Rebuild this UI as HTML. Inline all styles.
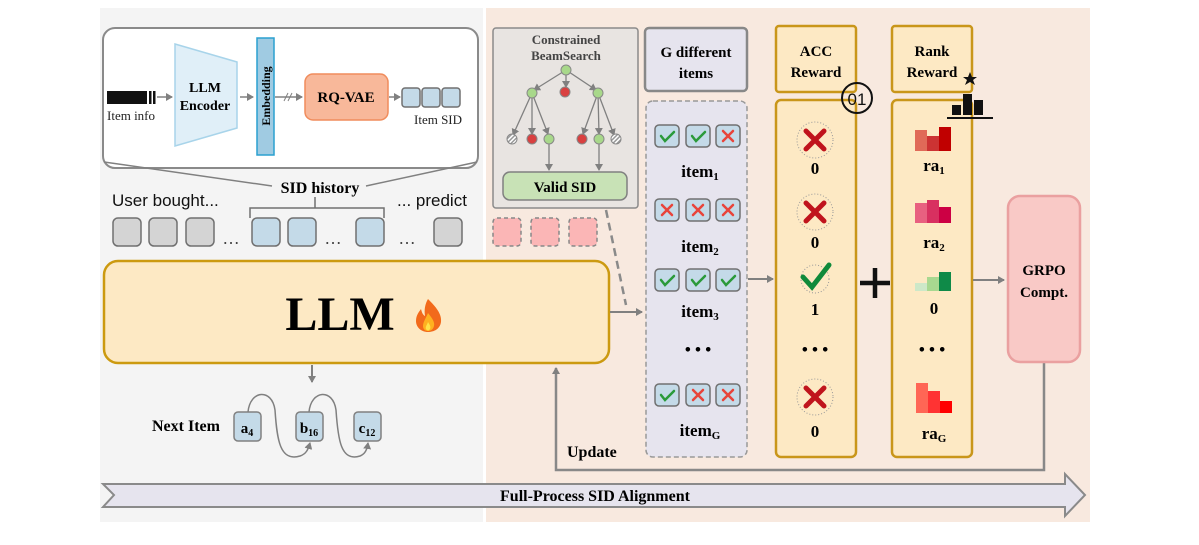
<!DOCTYPE html>
<html><head><meta charset="utf-8"><style>
html,body{margin:0;padding:0;background:#fff;}
svg{display:block;}
.s{font-family:"Liberation Serif",serif;font-weight:bold;}
.n{font-family:"Liberation Sans",sans-serif;}
</style></head><body>
<svg width="1199" height="545" viewBox="0 0 1199 545" xmlns="http://www.w3.org/2000/svg">
<defs>
<marker id="ar" markerWidth="8" markerHeight="8" refX="6" refY="4" orient="auto" markerUnits="userSpaceOnUse"><path d="M0,0 L7,4 L0,8 Z" fill="#808080"/></marker>
<pattern id="hat" width="3" height="3" patternUnits="userSpaceOnUse" patternTransform="rotate(45)"><rect width="3" height="3" fill="#fff"/><rect width="1.5" height="3" fill="#999"/></pattern>
</defs>
<rect x="100" y="8" width="383" height="514" fill="#f4f4f4"/>
<rect x="486" y="8" width="604" height="514" fill="#f8e9df"/>

<!-- top white box -->
<rect x="103" y="28" width="375" height="140" rx="12" fill="#fff" stroke="#8a8a8a" stroke-width="2"/>
<rect x="107" y="91" width="40" height="13" fill="#111"/>
<rect x="149" y="91" width="2.5" height="13" fill="#111"/><rect x="153" y="91" width="2.5" height="13" fill="#111"/>
<line x1="157" y1="97" x2="172" y2="97" stroke="#808080" stroke-width="1.5" marker-end="url(#ar)"/>
<text x="107" y="120" font-size="13" fill="#222" font-family="Liberation Serif,serif">Item info</text>
<polygon points="175,44 237,62 237,128 175,146" fill="#e0eff8" stroke="#a8d4ea" stroke-width="1.5"/>
<text x="205" y="92" class="s" font-size="14" text-anchor="middle">LLM</text>
<text x="205" y="110" class="s" font-size="14" text-anchor="middle">Encoder</text>
<line x1="240" y1="97" x2="253" y2="97" stroke="#808080" stroke-width="1.5" marker-end="url(#ar)"/>
<rect x="257" y="38" width="17" height="117" fill="#a0cbe2" stroke="#2aa0d0" stroke-width="1.5"/>
<text transform="translate(270,96) rotate(-90)" class="s" font-size="12" text-anchor="middle">Embedding</text>
<line x1="275" y1="97" x2="302" y2="97" stroke="#808080" stroke-width="1.5" marker-end="url(#ar)"/>
<line x1="284" y1="101" x2="288" y2="93" stroke="#808080" stroke-width="1"/><line x1="288" y1="101" x2="292" y2="93" stroke="#808080" stroke-width="1"/>
<rect x="305" y="74" width="83" height="46" rx="8" fill="#f8b89a" stroke="#f08c5c" stroke-width="1.5"/>
<text x="346" y="102" class="s" font-size="15" text-anchor="middle">RQ-VAE</text>
<line x1="389" y1="97" x2="400" y2="97" stroke="#808080" stroke-width="1.5" marker-end="url(#ar)"/>
<rect x="402" y="88" width="18" height="19" rx="3" fill="#c4dae8" stroke="#707070" stroke-width="1.5"/>
<rect x="422" y="88" width="18" height="19" rx="3" fill="#c4dae8" stroke="#707070" stroke-width="1.5"/>
<rect x="442" y="88" width="18" height="19" rx="3" fill="#c4dae8" stroke="#707070" stroke-width="1.5"/>
<text x="414" y="124" font-size="13" fill="#222" font-family="Liberation Serif,serif">Item SID</text>
<line x1="104" y1="162" x2="272" y2="186" stroke="#808080" stroke-width="1.5"/>
<line x1="477" y1="162" x2="366" y2="186" stroke="#808080" stroke-width="1.5"/>
<text x="320" y="193" class="s" font-size="16" text-anchor="middle">SID history</text>
<text x="112" y="206" class="n" font-size="17" fill="#111">User bought...</text>
<text x="397" y="206" class="n" font-size="17" fill="#111">... predict</text>
<path d="M250,218 V208 H384 V218 M315,208 V197" fill="none" stroke="#707070" stroke-width="1.5"/>
<g stroke="#707070" stroke-width="1.5">
<rect x="113" y="218" width="28" height="28" rx="5" fill="#d4d4d4"/>
<rect x="149" y="218" width="28" height="28" rx="5" fill="#d4d4d4"/>
<rect x="186" y="218" width="28" height="28" rx="5" fill="#d4d4d4"/>
<rect x="252" y="218" width="28" height="28" rx="5" fill="#c4dae8"/>
<rect x="288" y="218" width="28" height="28" rx="5" fill="#c4dae8"/>
<rect x="356" y="218" width="28" height="28" rx="5" fill="#c4dae8"/>
<rect x="434" y="218" width="28" height="28" rx="5" fill="#d4d4d4"/>
</g>
<text x="222" y="244" font-size="18" fill="#444" class="n">…</text>
<text x="324" y="244" font-size="18" fill="#444" class="n">…</text>
<text x="398" y="244" font-size="18" fill="#444" class="n">…</text>

<!-- beam search -->
<rect x="493" y="28" width="145" height="180" rx="3" fill="#e8e4e1" stroke="#8a8a8a" stroke-width="1.5"/>
<text x="566" y="44" class="s" font-size="13" fill="#444" text-anchor="middle">Constrained</text>
<text x="566" y="60" class="s" font-size="13" fill="#444" text-anchor="middle">BeamSearch</text>
<g stroke="#808080" stroke-width="1.3" fill="none">
<line x1="566" y1="70" x2="534" y2="90" marker-end="url(#ar)"/>
<line x1="566" y1="70" x2="566" y2="87" marker-end="url(#ar)"/>
<line x1="566" y1="70" x2="596" y2="90" marker-end="url(#ar)"/>
<line x1="532" y1="93" x2="513" y2="135" marker-end="url(#ar)"/>
<line x1="532" y1="93" x2="532" y2="134" marker-end="url(#ar)"/>
<line x1="532" y1="93" x2="548" y2="134" marker-end="url(#ar)"/>
<line x1="598" y1="93" x2="583" y2="134" marker-end="url(#ar)"/>
<line x1="598" y1="93" x2="599" y2="134" marker-end="url(#ar)"/>
<line x1="598" y1="93" x2="614" y2="135" marker-end="url(#ar)"/>
<line x1="549" y1="144" x2="549" y2="170" marker-end="url(#ar)"/>
<line x1="599" y1="144" x2="599" y2="170" marker-end="url(#ar)"/>
</g>
<g stroke="#888" stroke-width="1">
<circle cx="566" cy="70" r="5" fill="#a8d88a"/>
<circle cx="532" cy="93" r="5" fill="#a8d88a"/><circle cx="565" cy="92" r="5" fill="#d94040"/><circle cx="598" cy="93" r="5" fill="#a8d88a"/>
<circle cx="512" cy="139" r="5" fill="url(#hat)"/><circle cx="532" cy="139" r="5" fill="#d94040"/><circle cx="549" cy="139" r="5" fill="#a8d88a"/>
<circle cx="582" cy="139" r="5" fill="#d94040"/><circle cx="599" cy="139" r="5" fill="#a8d88a"/><circle cx="616" cy="139" r="5" fill="url(#hat)"/>
</g>
<rect x="503" y="172" width="124" height="28" rx="7" fill="#c8e2b6" stroke="#808080" stroke-width="1.5"/>
<text x="565" y="192" class="s" font-size="15" text-anchor="middle">Valid SID</text>
<g stroke="#888" stroke-width="1.5" stroke-dasharray="4,3" fill="#fbb6b6">
<rect x="493" y="218" width="28" height="28" rx="4"/>
<rect x="531" y="218" width="28" height="28" rx="4"/>
<rect x="569" y="218" width="28" height="28" rx="4"/>
</g>
<line x1="606" y1="210" x2="626" y2="305" stroke="#8a8a8a" stroke-width="2.5" stroke-dasharray="8,5"/>

<!-- LLM -->
<rect x="104" y="261" width="505" height="102" rx="14" fill="#fde9c4" stroke="#cc9a10" stroke-width="2.5"/>
<text x="340" y="330" class="s" font-size="48" text-anchor="middle">LLM</text>
<path d="M428,299 C436,307 442,314 441,322 C440,329 434,332 428,332 C421,332 416,327 416,321 C416,315 419,312 421,309 C422,313 423,315 425,316 C424,310 425,304 428,299 Z" fill="#f26a1b"/>
<path d="M428,313 C432,318 435,322 434,326 C433,330 430,331 428,331 C425,331 423,329 423,326 C423,322 426,318 428,313 Z" fill="#ffb020"/>
<path d="M428,322 C430,325 431,327 430,329 C429,331 427,331 426,329 C425,327 427,325 428,322 Z" fill="#ffe34a"/>
<line x1="610" y1="312" x2="642" y2="312" stroke="#808080" stroke-width="2" marker-end="url(#ar)"/>
<line x1="312" y1="365" x2="312" y2="382" stroke="#808080" stroke-width="2" marker-end="url(#ar)"/>

<text x="152" y="431" class="s" font-size="16">Next Item</text>
<g stroke="#808080" stroke-width="1.5" fill="#c4dae8">
<rect x="234" y="412" width="27" height="29" rx="4"/>
<rect x="296" y="412" width="27" height="29" rx="4"/>
<rect x="354" y="412" width="27" height="29" rx="4"/>
</g>
<text x="247" y="433" class="s" font-size="15" text-anchor="middle">a<tspan font-size="10" dy="3">4</tspan></text>
<text x="309" y="433" class="s" font-size="15" text-anchor="middle">b<tspan font-size="10" dy="3">16</tspan></text>
<text x="367" y="433" class="s" font-size="15" text-anchor="middle">c<tspan font-size="10" dy="3">12</tspan></text>
<path d="M248,412 C250,390 272,388 275,410 C277,440 280,462 300,456 C306,454 308,450 310,443" fill="none" stroke="#808080" stroke-width="1.5" marker-end="url(#ar)"/>
<path d="M309,412 C311,390 333,388 336,410 C338,440 341,462 360,456 C365,454 367,450 368,443" fill="none" stroke="#808080" stroke-width="1.5" marker-end="url(#ar)"/>

<!-- update loop -->
<path d="M1044,362 V470 H556 V368" fill="none" stroke="#888" stroke-width="2.5" marker-end="url(#ar)"/>
<text x="567" y="457" class="s" font-size="16">Update</text>

<!-- full process arrow -->
<polygon points="103,484 1065,484 1065,474 1085,495 1065,516 1065,507 103,507 114,495" fill="#e6e4ee" stroke="#8a8a8a" stroke-width="2"/>
<text x="595" y="501" class="s" font-size="16" text-anchor="middle">Full-Process SID Alignment</text>

<!-- G items -->
<rect x="645" y="28" width="102" height="63" rx="4" fill="#e6e4ee" stroke="#888" stroke-width="2.5"/>
<text x="696" y="57" class="s" font-size="15" text-anchor="middle">G different</text>
<text x="696" y="78" class="s" font-size="15" text-anchor="middle">items</text>
<rect x="646" y="101" width="101" height="356" rx="7" fill="#e6e4ee" stroke="#999" stroke-width="1.5" stroke-dasharray="5,3"/>
<g stroke="#707070" stroke-width="1.5" fill="#c4dae8">
<rect x="655" y="125" width="24" height="22" rx="4"/><rect x="686" y="125" width="24" height="22" rx="4"/><rect x="716" y="125" width="24" height="22" rx="4"/>
<rect x="655" y="199" width="24" height="22" rx="4"/><rect x="686" y="199" width="24" height="22" rx="4"/><rect x="716" y="199" width="24" height="22" rx="4"/>
<rect x="655" y="269" width="24" height="22" rx="4"/><rect x="686" y="269" width="24" height="22" rx="4"/><rect x="716" y="269" width="24" height="22" rx="4"/>
<rect x="655" y="384" width="24" height="22" rx="4"/><rect x="686" y="384" width="24" height="22" rx="4"/><rect x="716" y="384" width="24" height="22" rx="4"/>
</g>
<g fill="none" stroke-width="2.5" stroke-linecap="round">
<path d="M661,136 l4,5 l9,-9" stroke="#2a9a3a"/><path d="M692,136 l4,5 l9,-9" stroke="#2a9a3a"/><path d="M723,131 l10,10 M733,131 l-10,10" stroke="#e8443a"/>
<path d="M662,205 l10,10 M672,205 l-10,10" stroke="#e8443a"/><path d="M693,205 l10,10 M703,205 l-10,10" stroke="#e8443a"/><path d="M723,205 l10,10 M733,205 l-10,10" stroke="#e8443a"/>
<path d="M661,280 l4,5 l9,-9" stroke="#2a9a3a"/><path d="M692,280 l4,5 l9,-9" stroke="#2a9a3a"/><path d="M722,280 l4,5 l9,-9" stroke="#2a9a3a"/>
<path d="M661,395 l4,5 l9,-9" stroke="#2a9a3a"/><path d="M693,390 l10,10 M703,390 l-10,10" stroke="#e8443a"/><path d="M723,390 l10,10 M733,390 l-10,10" stroke="#e8443a"/>
</g>
<g class="s" font-size="17" text-anchor="middle">
<text x="700" y="177">item<tspan font-size="11" dy="3">1</tspan></text>
<text x="700" y="252">item<tspan font-size="11" dy="3">2</tspan></text>
<text x="700" y="317">item<tspan font-size="11" dy="3">3</tspan></text>
<text x="698" y="355">• • •</text>
<text x="700" y="436">item<tspan font-size="11" dy="3">G</tspan></text>
</g>
<line x1="748" y1="279" x2="773" y2="279" stroke="#808080" stroke-width="2" marker-end="url(#ar)"/>

<!-- ACC -->
<rect x="776" y="26" width="80" height="66" rx="3" fill="#fde9c4" stroke="#c9961a" stroke-width="2.5"/>
<text x="816" y="56" class="s" font-size="15" text-anchor="middle">ACC</text>
<text x="816" y="77" class="s" font-size="15" text-anchor="middle">Reward</text>
<rect x="776" y="100" width="80" height="357" rx="5" fill="#fde9c4" stroke="#c9961a" stroke-width="2.5"/>
<circle cx="857" cy="98" r="15" fill="none" stroke="#111" stroke-width="2"/>
<text x="857" y="105" font-size="17" text-anchor="middle" class="n" fill="#111">01</text>
<g stroke="#999" stroke-width="1" stroke-dasharray="1,2" fill="none">
<circle cx="815" cy="140" r="18"/><circle cx="815" cy="212" r="18"/><circle cx="815" cy="279" r="14"/><circle cx="815" cy="397" r="18"/>
</g>
<g stroke="#c0141c" stroke-width="5" stroke-linecap="round">
<path d="M806,131 l18,18 M824,131 l-18,18"/><path d="M806,203 l18,18 M824,203 l-18,18"/><path d="M806,388 l18,18 M824,388 l-18,18"/>
</g>
<path d="M803,277 l9,10 l17,-22" fill="none" stroke="#0f8a3a" stroke-width="5" stroke-linecap="round"/>
<g class="s" font-size="17" text-anchor="middle">
<text x="815" y="174">0</text><text x="815" y="248">0</text><text x="815" y="315">1</text><text x="815" y="355">• • •</text><text x="815" y="437">0</text>
</g>
<path d="M875,268 V298 M860,283 H890" stroke="#111" stroke-width="4.5"/>

<!-- Rank -->
<rect x="892" y="26" width="80" height="66" rx="3" fill="#fde9c4" stroke="#c9961a" stroke-width="2.5"/>
<text x="932" y="56" class="s" font-size="15" text-anchor="middle">Rank</text>
<text x="932" y="77" class="s" font-size="15" text-anchor="middle">Reward</text>
<rect x="892" y="100" width="80" height="357" rx="5" fill="#fde9c4" stroke="#c9961a" stroke-width="2.5"/>
<polygon points="970,72 972,77 977,77 973,80 975,85 970,82 965,85 967,80 963,77 968,77" fill="#111"/>
<rect x="952" y="105" width="9" height="10" fill="#111"/><rect x="963" y="94" width="9" height="21" fill="#111"/><rect x="974" y="100" width="9" height="15" fill="#111"/>
<line x1="947" y1="118" x2="993" y2="118" stroke="#111" stroke-width="2"/>
<rect x="915" y="130" width="12" height="21" fill="#e06a58"/><rect x="927" y="136" width="12" height="15" fill="#cc3333"/><rect x="939" y="127" width="12" height="24" fill="#c00000"/>
<rect x="915" y="203" width="12" height="20" fill="#e86080"/><rect x="927" y="200" width="12" height="23" fill="#d83060"/><rect x="939" y="207" width="12" height="16" fill="#cc0044"/>
<rect x="915" y="283" width="12" height="8" fill="#cde8c8"/><rect x="927" y="277" width="12" height="14" fill="#a8d890"/><rect x="939" y="272" width="12" height="19" fill="#0f8a48"/>
<rect x="916" y="383" width="12" height="30" fill="#ff6655"/><rect x="928" y="391" width="12" height="22" fill="#ff3333"/><rect x="940" y="401" width="12" height="12" fill="#ff0000"/>
<g class="s" font-size="17" text-anchor="middle">
<text x="934" y="171">ra<tspan font-size="11" dy="3">1</tspan></text>
<text x="934" y="248">ra<tspan font-size="11" dy="3">2</tspan></text>
<text x="934" y="314">0</text>
<text x="932" y="355">• • •</text>
<text x="934" y="439">ra<tspan font-size="11" dy="3">G</tspan></text>
</g>
<line x1="973" y1="280" x2="1004" y2="280" stroke="#808080" stroke-width="2" marker-end="url(#ar)"/>

<!-- GRPO -->
<rect x="1008" y="196" width="72" height="166" rx="12" fill="#f9c9c6" stroke="#eaa0a0" stroke-width="2.5"/>
<text x="1044" y="275" class="s" font-size="15" text-anchor="middle">GRPO</text>
<text x="1044" y="297" class="s" font-size="15" text-anchor="middle">Compt.</text>
</svg>
</body></html>
